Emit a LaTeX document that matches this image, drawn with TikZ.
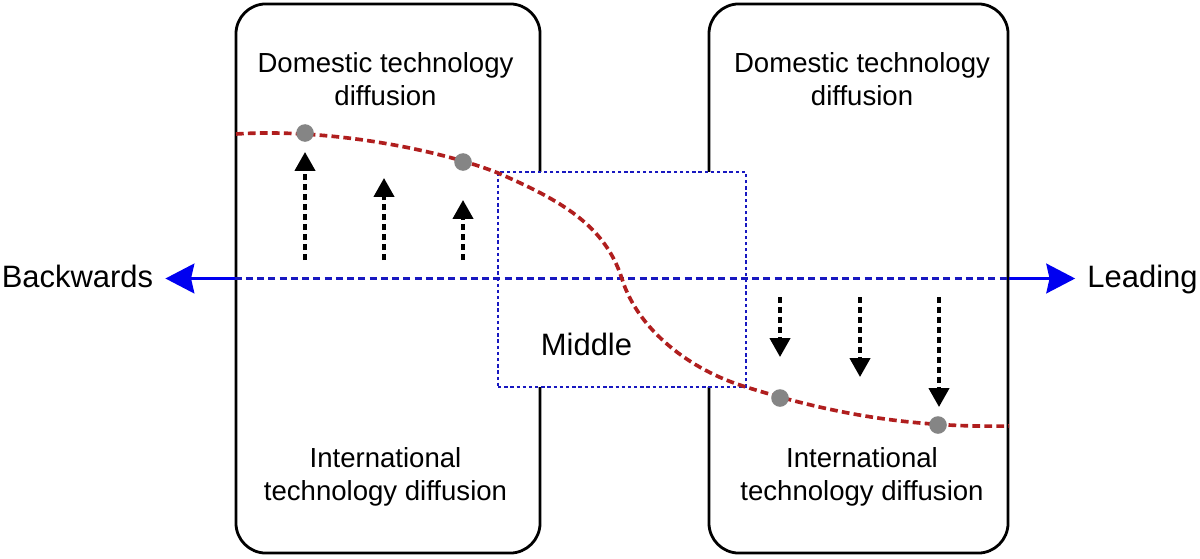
\documentclass[tikz,border=0pt]{standalone}
\usepackage{fontspec}
\setmainfont{Liberation Sans}
\usepackage{tikz}
\usetikzlibrary{arrows.meta,positioning,calc}
\definecolor{axisblue}{HTML}{0000F0}
\definecolor{dashblue}{HTML}{1818C0}
\definecolor{curvered}{HTML}{B01E1E}
\definecolor{dotgray}{HTML}{858585}

\begin{document}
\begin{tikzpicture}[
    x=0.025cm, y=-0.025cm,
    every node/.style={align=center},
    panel/.style={draw=black, line width=2pt, rounded corners=0.75cm, minimum height=13.725cm},
    paneltext/.style={font=\fontsize{19.6}{23.5}\selectfont, inner sep=0pt},
    sidetext/.style={font=\fontsize{22}{26}\selectfont, inner ysep=0pt, inner xsep=0.3cm},
    axis/.style={-{Stealth[length=0.72cm, width=0.74cm, inset=0.08cm]}, line width=2.4pt, axisblue},
    axisdash/.style={line width=2.4pt, dashblue, dash pattern=on 5pt off 3pt},
    push/.style={-{Triangle[length=0.47cm, width=0.5cm]}, line width=2.6pt, dash pattern=on 4.5pt off 2.6pt},
    dot/.style={circle, fill=dotgray, minimum size=0.44cm, inner sep=0pt}
]
    \useasboundingbox (0,0) rectangle (1200,558);

    % two regions
    \node[panel, minimum width=7.6cm] (backbox) at (388,278.5) {};
    \node[panel, minimum width=7.475cm] (leadbox) at (858.5,278.5) {};
    \node[draw=dashblue, fill=white, line width=1.7pt, dash pattern=on 2.4pt off 2pt,
          minimum width=6.2cm, minimum height=5.375cm] (midbox) at (622,279.5) {};

    \node[paneltext] (domback) at (385.5,79) {Domestic technology\\diffusion};
    \node[paneltext] (intback) at (385.5,477) {International\\technology diffusion};
    \node[paneltext] (domlead) at (862,79) {Domestic technology\\diffusion};
    \node[paneltext] (intlead) at (862,477) {International\\technology diffusion};
    \node[font=\fontsize{22}{26}\selectfont, inner sep=0pt] (midlbl) at (586.5,344) {Middle};

    \node[sidetext, anchor=base] (backlbl) at (77.5,287) {Backwards};
    \node[sidetext, anchor=base] (leadlbl) at (1142.5,287) {Leading};

    % axis
    \draw[axisdash] (backbox.west) -- (leadbox.east);
    \draw[axis] (backbox.west) -- (backbox.west -| backlbl.east);
    \draw[axis] (leadbox.east) -- (leadbox.east -| leadlbl.west);

    % diffusion curve
    \draw[curvered, line width=2.6pt, dash pattern=on 5.5pt off 3pt]
        (236,134) .. controls (330,128) and (440,150) .. (498,173)
        .. controls (560,200) and (605,225) .. (622,279)
        .. controls (638,330) and (690,370) .. (746,387)
        .. controls (820,410) and (900,428) .. (1009,426);
    \node[dot] (p1) at (305,133) {};
    \node[dot] (p2) at (463,162) {};
    \node[dot] (p3) at (780,398) {};
    \node[dot] (p4) at (938,425) {};

    \foreach \x/\y in {305/152, 384/178, 463/200}
        \draw[push] (\x,260) -- (\x,\y);
    \foreach \x/\y in {780/357, 860/377, 939/407}
        \draw[push] (\x,297) -- (\x,\y);
\end{tikzpicture}
\end{document}
